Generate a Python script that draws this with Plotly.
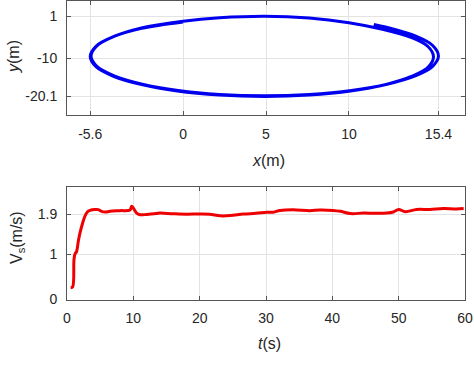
import plotly.graph_objects as go

# ---- Trajectory (top panel) ----
traj_x = [0.0, -2.5, -4.2, -5.25, -5.6, -5.25, -4.2, -2.5, -0.35, 2.2, 4.9, 7.6, 10.1, 12.2, 13.8, 14.8, 15.1,
          14.75, 13.7, 12.1, 10.0, 7.6, 4.9, 2.2, 0.0,
          -2.45, -4.1, -5.2, -5.55, -5.2, -4.15, -2.45, -0.3, 2.2, 4.9, 7.6, 10.15, 12.3, 14.0, 15.05, 15.4,
          15.05, 14.0, 12.6, 11.5]
traj_y = [-0.5, -2.2, -4.4, -6.9, -9.6, -12.3, -14.8, -17.0, -18.7, -19.75, -20.1, -19.75, -18.7, -17.0, -14.8, -12.3, -9.6,
          -6.9, -4.5, -2.5, -0.7, 0.55, 1.0, 0.6, -0.3,
          -2.0, -4.2, -6.8, -9.5, -12.2, -14.7, -16.9, -18.55, -19.6, -19.95, -19.6, -18.55, -16.9, -14.7, -12.2, -9.5,
          -6.7, -4.2, -2.3, -1.2]
x_ticks = [-5.6, 0, 5, 10, 15.4]
y_ticks = [1, -10, -20.1]

# ---- Speed (bottom panel) ----
t_s = [0.55, 0.85, 1.05, 1.2, 1.45, 1.7, 1.96, 2.36, 2.7, 3.07, 3.47, 4.2, 4.7, 5.2, 5.7, 6.5, 8.0, 9.5, 9.75, 10.0,
       10.5, 11.0, 12.0, 13.5, 14.0, 16.0, 18.0, 20.0, 21.5, 23.1, 24.6, 26.6, 28.5, 30.1, 31.1, 32.1, 34.1, 36.6,
       38.1, 40.1, 41.2, 42.7, 44.7, 46.5, 48.2, 49.2, 50.0, 51.0, 52.7, 54.7, 56.7, 58.7, 59.8]
v_s = [0.26, 0.28, 0.88, 1.01, 1.07, 1.29, 1.48, 1.70, 1.85, 1.945, 1.98, 2.0, 1.997, 1.96, 1.945, 1.96, 1.975, 1.99, 2.07, 2.03,
       1.92, 1.885, 1.89, 1.91, 1.92, 1.905, 1.895, 1.9, 1.895, 1.86, 1.865, 1.9, 1.915, 1.94, 1.94, 1.98, 1.997, 1.975,
       1.99, 1.98, 1.96, 1.91, 1.92, 1.915, 1.92, 1.945, 2.0, 1.95, 2.0, 2.0, 2.02, 2.01, 2.02]
t_ticks = [0, 10, 20, 30, 40, 50, 60]
v_ticks = [0, 1, 1.9]

FONT = "Liberation Sans, Arial, Helvetica, sans-serif"
AX = "#262626"
GRID = "#e3e3e3"
W, H = 474, 380

fig = go.Figure()
fig.add_trace(go.Scatter(x=traj_x, y=traj_y, mode="lines", line=dict(color="#0000ee", width=3, shape="spline"),
                         xaxis="x", yaxis="y", showlegend=False))
fig.add_trace(go.Scatter(x=t_s, y=v_s, mode="lines", line=dict(color="#ee0000", width=3, shape="spline"),
                         xaxis="x2", yaxis="y2", showlegend=False))

common = dict(showline=True, linecolor="#555555", linewidth=1, mirror="allticks", ticks="inside", ticklen=4,
              tickcolor="#555555", showgrid=True, gridcolor=GRID, gridwidth=1, zeroline=False, automargin=False,
              tickfont=dict(family=FONT, size=14, color=AX), ticklabelstandoff=6)

fig.update_layout(
    width=W, height=H, margin=dict(l=0, r=0, t=0, b=0),
    paper_bgcolor="white", plot_bgcolor="white",
    xaxis=dict(domain=[67 / W, 465 / W], range=[-7, 17], tickvals=x_ticks, ticktext=["-5.6", "0", "5", "10", "15.4"],
               anchor="y", **common),
    yaxis=dict(domain=[1 - 115 / H, 1 - 1 / H], range=[-25, 5], tickvals=y_ticks, ticktext=["1", "-10", "-20.1"],
               anchor="x", **common),
    xaxis2=dict(domain=[67 / W, 465 / W], range=[0, 60], tickvals=t_ticks, anchor="y2", **common),
    yaxis2=dict(domain=[1 - 299.5 / H, 1 - 187 / H], range=[0, 2.5], tickvals=v_ticks, ticktext=["0", "1", "1.9"],
                anchor="x2", **common),
)

titles = [
    ("<i>x</i>(m)", 268, 160, 0),
    ("<i>t</i>(s)", 269, 343, 0),
    ("<i>y</i>(m)", 13, 57, -90),
    ("V<sub>s</sub>(m/s)", 18, 238, -90),
]
for txt, px, py, ang in titles:
    fig.add_annotation(text=txt, x=px / W, y=1 - py / H, xref="paper", yref="paper", showarrow=False,
                       xanchor="center", yanchor="middle", textangle=ang,
                       font=dict(family=FONT, size=16, color=AX))

fig.write_html("out.html", config={"displayModeBar": False},
               post_script="document.body.style.margin='0';document.body.style.overflow='hidden';")
